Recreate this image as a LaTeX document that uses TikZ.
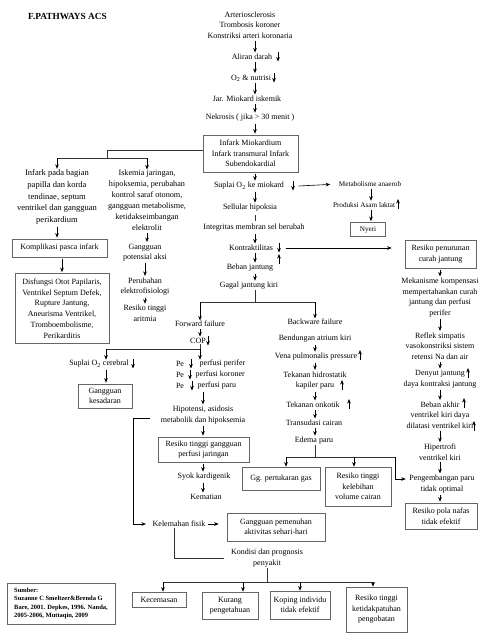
\documentclass[tikz,border=0pt]{standalone}
\usepackage{fontspec}
\setmainfont{Liberation Serif}
\usetikzlibrary{arrows.meta,calc}
\newcommand\fsn{\fontsize{8}{10.5}\selectfont}
\newcommand\fsl{\fontsize{8.5}{11.8}\selectfont}
\newcommand\fsm{\fontsize{8.2}{11}\selectfont}
\newcommand\fss{\fontsize{7.2}{9}\selectfont}
\newcommand\indn[2]{\draw[ar] (#1,#2-5) -- (#1,#2+4.5);}
\newcommand\inup[2]{\draw[ar] (#1,#2+4.5) -- (#1,#2-5);}
\begin{document}
\begin{tikzpicture}[x=1pt,y=-1pt,
  t/.style={font=\fsn, align=center, inner sep=0.5pt},
  bx/.style={t, draw=black!60, line width=0.7pt, inner sep=1pt},
  ar/.style={-{Stealth[length=4.5pt,width=3.6pt]}, line width=0.6pt, black},
  arc/.style={ar, shorten <=1.5pt, shorten >=1pt},
  ln/.style={line width=0.6pt, black!80},
]
\useasboundingbox (0,0) rectangle (486,640);
% column coordinates
\coordinate (mc) at (255,0);
\coordinate (ac) at (371,0);
\coordinate (rc) at (440,0);
\coordinate (fc) at (203,0);
\coordinate (bc) at (315,0);

\node[font=\bfseries\fontsize{9.3}{11}\selectfont, anchor=west, inner sep=0] (title) at (28,16) {F.PATHWAYS ACS};

% main column
\node[t] (n1) at (250,25) {Arteriosclerosis\\Trombosis koroner\\Konstriksi arteri koronaria};
\node[t] (n2) at (252,57) {Aliran darah};
\node[t] (n3) at (251,78) {O\textsubscript{2} \& nutrisi};
\node[t] (n4) at (247,99) {Jar. Miokard iskemik};
\node[t] (n5) at (250,118) {Nekrosis ( jika \textgreater{} 30 menit )};
\node[bx, minimum width=95pt, minimum height=37pt] (n6) at (250.5,153.5) {Infark Miokardium\\Infark transmural Infark\\Subendokardial};
\node[t] (n7) at (249,186) {Suplai O\textsubscript{2} ke miokard};
\node[t] (n8) at (250,208) {Sellular hipoksia};
\node[t] (n9) at (254,228) {Integritas membran sel berubah};
\node[t] (n10) at (251,248) {Kontraktilitas};
\node[t] (n11) at (250,268) {Beban jantung};
\node[t] (n12) at (249,286) {Gagal jantung kiri};

\foreach \a/\b in {n1/n2,n2/n3,n3/n4,n4/n5,n5/n6,n6/n7,n7/n8,n9/n10,n10/n11,n11/n12}
  \draw[arc] (\a.south -| mc) -- (\b.north -| mc);
\draw[ln, shorten <=3pt, shorten >=3pt] (n8.south -| mc) -- (n9.north -| mc);

\indn{278}{57}
\indn{274}{78}
\indn{293}{186}
\indn{279}{248}
\inup{279}{259}

% left branch
\node[t, font=\fsl] (n13) at (57,197) {Infark pada bagian\\papilla dan korda\\tendinae, septum\\ventrikel dan gangguan\\perikardium};
\node[t, font=\fsm] (n14) at (147,200.5) {Iskemia jaringan,\\hipoksemia, perubahan\\kontrol saraf otonom,\\gangguan metabolisme,\\ketidakseimbangan\\elektrolit};
\coordinate (lb) at (107,158);
\draw[ln] ([yshift=3.5pt]n6.west) -| (lb);
\draw[ln] (n13.north |- lb) -- (n14.north |- lb);
\draw[ar] (n13.north |- lb) -- (n13.north);
\draw[ar] (n14.north |- lb) -- (n14.north);

\node[bx, minimum width=95pt, minimum height=18pt] (n15) at (59.5,248) {Komplikasi pasca infark};
\node[bx, minimum width=94pt, minimum height=70pt, font=\fontsize{8}{10.8}\selectfont] (n16) at (62,308.5) {Disfungsi Otot Papilaris,\\Ventrikel Septum Defek,\\Rupture Jantung,\\Aneurisma Ventrikel,\\Tromboembolisme,\\Perikarditis};
\draw[arc] (n13.south) -- (n15.north -| n13.south);
\draw[arc] (n15.south -| n16.north) -- (n16.north);

\node[t] (n17) at (145,252.5) {Gangguan\\potensial aksi};
\node[t] (n18) at (145,286.5) {Perubahan\\elektrofisiologi};
\node[t] (n19) at (145,313.5) {Resiko tinggi\\aritmia};
\draw[arc] (n14.south) -- (n17.north -| n14.south);
\draw[arc] (n17.south) -- (n18.north);
\draw[arc] (n18.south) -- (n19.north);

% metabolisme branch
\node[t, font=\fss] (n20) at (370,184) {Metabolisme anaerob};
\node[t, font=\fss] (n21) at (364,205) {Produksi Asam laktat};
\node[bx, font=\fss, minimum width=35pt, minimum height=14pt] (n22) at (368,229.5) {Nyeri};
\draw[ar, shorten >=8pt] ([xshift=14pt]n7.east) -- (n20.west);
\draw[arc] (n20.south -| ac) -- (n21.north -| ac);
\draw[arc] (n21.south -| ac) -- (n22.north -| ac);
\inup{398}{204}

% right column
\node[bx, minimum width=71pt, minimum height=28pt] (n23) at (440.5,254) {Resiko penurunan\\curah jantung};
\node[t] (n24) at (440,297.5) {Mekanisme kompensasi\\mempertahankan curah\\jantung dan perfusi\\perifer};
\node[t] (n25) at (440,346) {Reflek simpatis\\vasokonstriksi sistem\\retensi Na dan air};
\node[t] (n26) at (440,379) {Denyut jantung\\daya kontraksi jantung};
\node[t] (n27) at (440,415) {Beban akhir\\ventrikel kiri daya\\dilatasi ventrikel kiri};
\node[t] (n28) at (440,452) {Hipertrofi\\ventrikel kiri};
\node[t] (n29) at (442,484) {Pengembangan paru\\tidak optimal};
\node[bx, minimum width=72pt, minimum height=26pt] (n30) at (441,516) {Resiko pola nafas\\tidak efektif};
\draw[ar, shorten <=12pt, shorten >=13pt] (n10.east) -- (n23.west |- n10.east);
\foreach \a/\b in {n23/n24,n24/n25,n25/n26,n26/n27,n27/n28,n28/n29,n29/n30}
  \draw[arc] (\a.south -| rc) -- (\b.north -| rc);
\inup{468}{373}
\inup{464}{403}
\inup{474}{426}

% forward failure
\coordinate (fb) at (200,302);
\coordinate (bb) at (315,302);
\draw[ln] (n12.south -| mc) -- (mc |- fb);
\draw[ln] (fb) -- (bb);
\node[t] (n31) at (200,324) {Forward failure};
\node[t] (n32) at (198,341) {COP};
\draw[ar] (fb) -- (n31.north -| fb);
\draw[arc] (n31.south -| fb) -- (n32.north -| fb);
\indn{208}{341}
\coordinate (cb) at (200,349);
\coordinate (cl) at (106,349);
\draw[ln] (n32.south -| cb) -- (cb) -- (cl);
\node[t] (n33) at (99,364) {Suplai O\textsubscript{2} cerebral};
\indn{133}{364}
\node[bx, minimum width=54pt, minimum height=24pt] (n34) at (105,396) {Gangguan\\kesadaran};
\draw[ar] (cl) -- (n33.north -| cl);
\draw[arc] (n33.south -| cl) -- (n34.north -| cl);

\node[t] (pe1) at (180,364) {Pe};
\node[t, anchor=west] (pf1) at (199,364) {perfusi perifer};
\node[t] (pe2) at (180,375) {Pe};
\node[t, anchor=west] (pf2) at (195,375) {perfusi koroner};
\node[t] (pe3) at (180,386) {Pe};
\node[t, anchor=west] (pf3) at (197,386) {perfusi paru};
\draw[ar] (cb) -- (cb |- pf1.north);
\indn{191}{364}
\indn{190}{375}
\indn{192}{386}

\node[t] (n36) at (203,415) {Hipotensi, asidosis\\metabolik dan hipoksemia};
\node[bx, minimum width=91pt, minimum height=25pt] (n37) at (203.5,449.5) {Resiko tinggi gangguan\\perfusi jaringan};
\node[t] (n38) at (204,477) {Syok kardigenik};
\node[t] (n39) at (206,497) {Kematian};
\draw[arc] (pf3.south -| fc) -- (n36.north -| fc);
\draw[arc] (n36.south -| fc) -- (n37.north -| fc);
\draw[arc] (n37.south -| fc) -- (n38.north -| fc);
\draw[arc] (n38.south -| fc) -- (n39.north -| fc);

\node[t] (n40) at (179,524) {Kelemahan fisik};
\node[bx, minimum width=98pt, minimum height=28pt] (n41) at (276,527) {Gangguan pemenuhan\\aktivitas sehari-hari};
\coordinate (kv) at (133,418);
\draw[ar, shorten >=6pt] ([xshift=-10pt,yshift=-3pt]n36.west) -- (kv) |- (n40.west);
\draw[ar, shorten <=2pt, shorten >=8pt] (n40.east) -- (n41.west |- n40.east);

\node[t] (n42) at (267,558) {Kondisi dan prognosis\\penyakit};
\coordinate (kx) at (174,0);
\draw[ln, shorten >=6pt] (n40.south -| kx) |- (n42.west);

\coordinate (kb) at (267,582);
\coordinate (k1) at (163,582);
\coordinate (k2) at (243,582);
\coordinate (k3) at (300,582);
\coordinate (k4) at (373,582);
\draw[ln] (n42.south -| kb) -- (kb);
\draw[ln] (k1) -- (k4);
\node[bx, minimum width=54pt, minimum height=15pt] (n43) at (159,599.5) {Kecemasan};
\node[bx, minimum width=56pt, minimum height=27pt] (n44) at (230,605.5) {Kurang\\pengetahuan};
\node[bx, minimum width=60pt, minimum height=28pt] (n45) at (300,605) {Koping individu\\tidak efektif};
\node[bx, minimum width=61pt, minimum height=45pt] (n46) at (376.5,609.5) {Resiko tinggi\\ketidakpatuhan\\pengobatan};
\draw[ar] (k1) -- (n43.north -| k1);
\draw[ar] (k2) -- (n44.north -| k2);
\draw[ar] (k3) -- (n45.north -| k3);
\draw[ar] (k4) -- (n46.north -| k4);

\node[draw=black!60, line width=0.7pt, minimum width=108pt, minimum height=41pt, align=left, font=\bfseries\fontsize{6.5}{8.3}\selectfont, inner sep=4pt] (src) at (61,603.5) {Sumber:\\Suzanne C Smeltzer\&Brenda G\\Bare, 2001. Depkes, 1996. Nanda,\\2005-2006, Muttaqin, 2009};

% backward failure
\node[t] (n47) at (315,322) {Backware failure};
\node[t] (n48) at (315,339) {Bendungan atrium kiri};
\node[t] (n49) at (316,357) {Vena pulmonalis pressure};
\node[t] (n50) at (315,380.5) {Tekanan hidrostatik\\kapiler paru};
\node[t] (n51) at (313,405) {Tekanan onkotik};
\node[t] (n52) at (314,423) {Transudasi cairan};
\node[t] (n53) at (314,441) {Edema paru};
\draw[ar] (bb) -- (n47.north -| bb);
\foreach \a/\b in {n48/n49,n49/n50,n50/n51,n51/n52,n52/n53}
  \draw[arc] (\a.south -| bc) -- (\b.north -| bc);
\inup{360}{355}
\inup{342}{385}
\inup{349}{404}

\node[bx, minimum width=78pt, minimum height=23pt] (n54) at (281,478.5) {Gg. pertukaran gas};
\node[bx, minimum width=66pt, minimum height=39pt] (n55) at (358,486.5) {Resiko tinggi\\kelebihan\\volume cairan};
\coordinate (eb) at (315,457);
\coordinate (e1) at (286,457);
\coordinate (e2) at (354,457);
\coordinate (e3) at (395,457);
\draw[ln] (n53.south -| eb) -- (eb);
\draw[ln] (e1) -- (e3);
\draw[ar] (e1) -- (n54.north -| e1);
\draw[ar] (e2) -- (n55.north -| e2);
\draw[ar, shorten >=3pt] (e3) |- ([yshift=5pt]n29.west);
\end{tikzpicture}
\end{document}
